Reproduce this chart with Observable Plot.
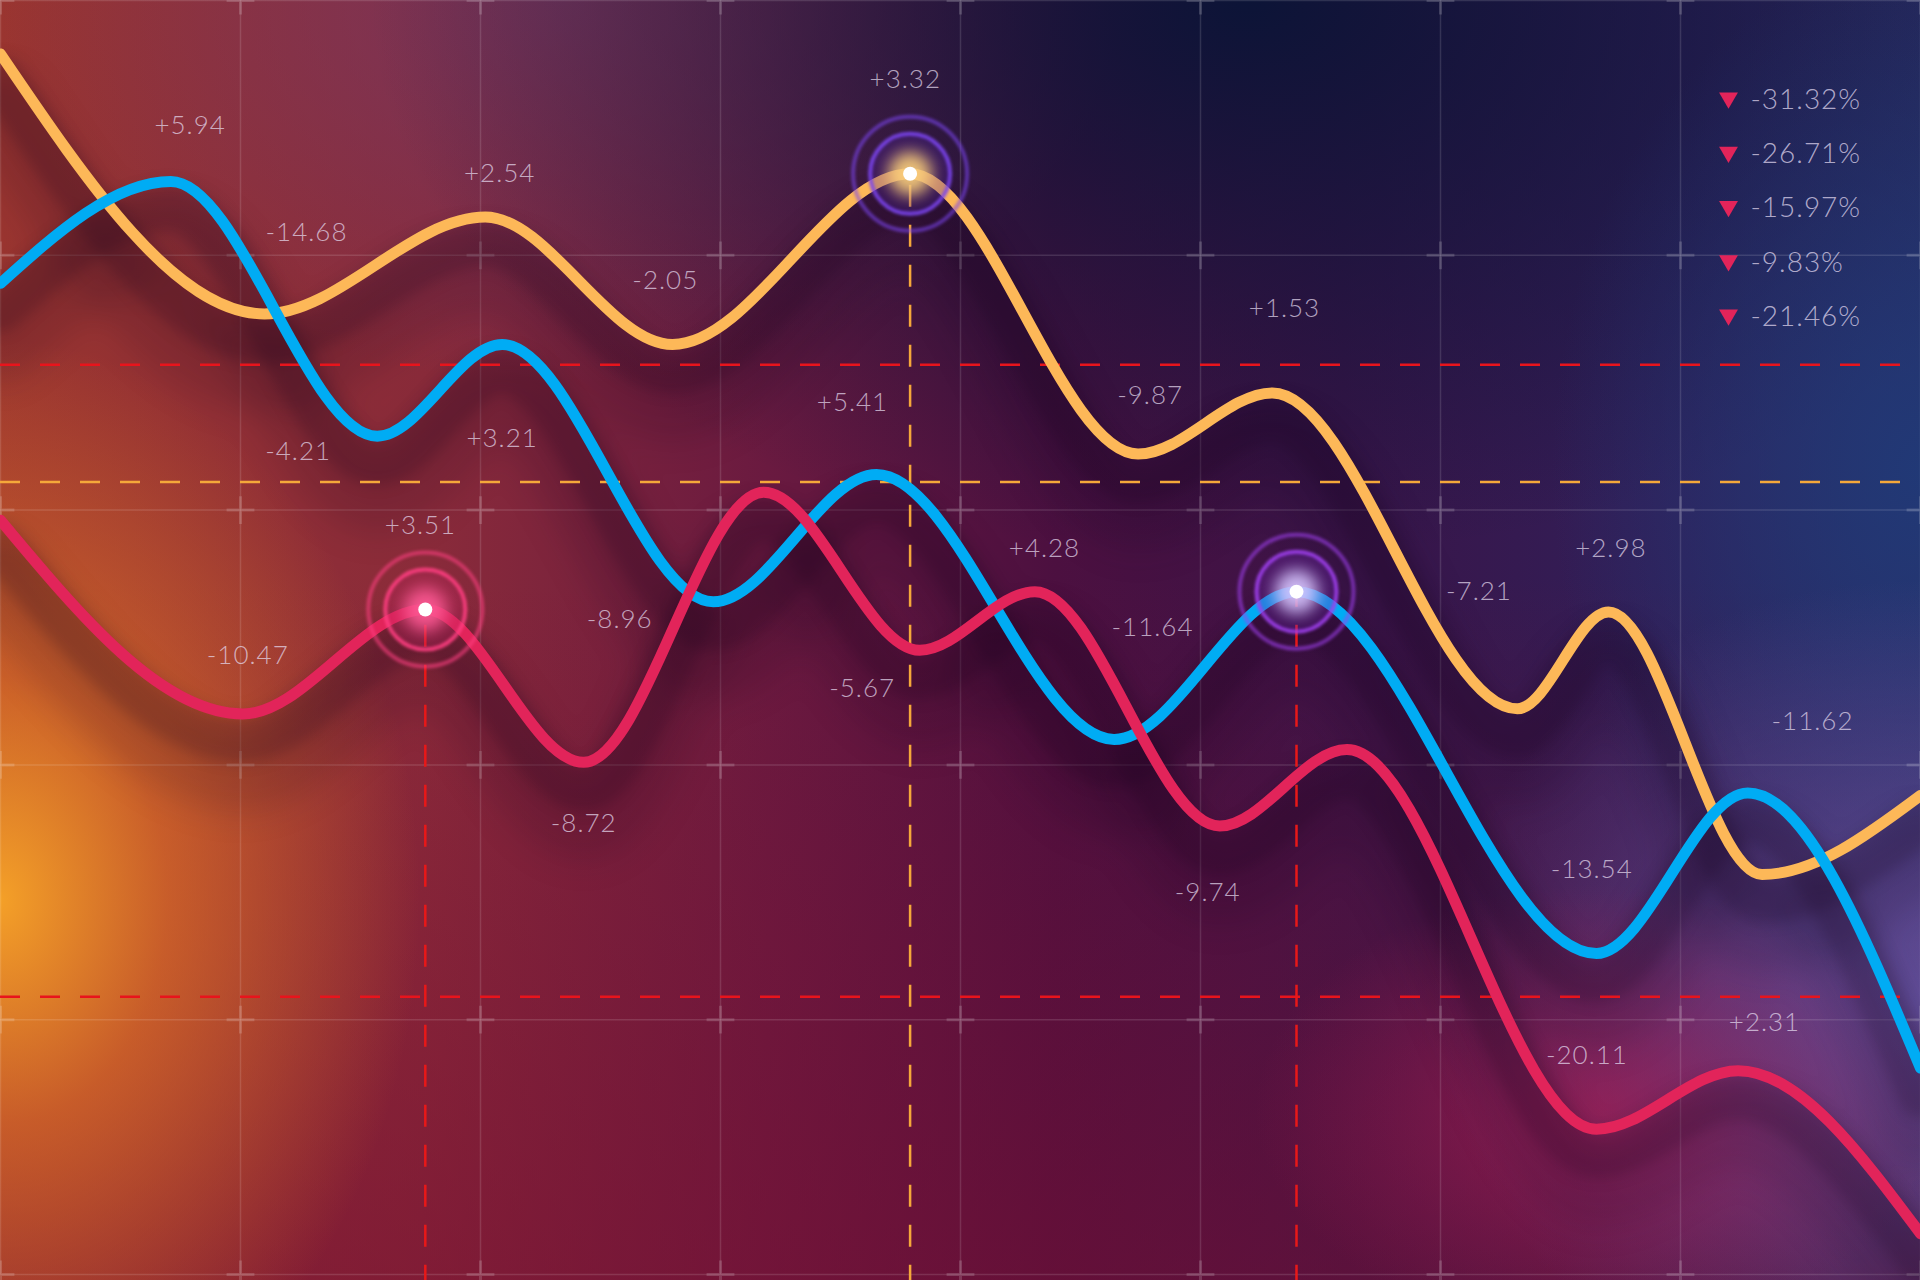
<!DOCTYPE html>
<html>
<head>
<meta charset="utf-8">
<script src="https://cdn.jsdelivr.net/npm/d3@7"></script>
<script src="https://cdn.jsdelivr.net/npm/@observablehq/plot@0.6"></script>
<style>
html, body { margin: 0; padding: 0; background: #000; }
#chart {
  width: 1920px; height: 1280px; position: relative; overflow: hidden;
  background:
    radial-gradient(ellipse 420px 560px at 0px 900px, rgba(244,160,40,1) 0%, rgba(225,115,38,0.7) 40%, rgba(200,80,40,0) 100%),
    radial-gradient(ellipse 460px 300px at 1600px 1110px, rgba(180,30,85,0.6), rgba(180,30,85,0) 75%),
    radial-gradient(ellipse 650px 560px at 1920px 1000px, rgba(100,82,160,0.9), rgba(100,82,160,0) 75%),
    radial-gradient(ellipse 460px 640px at 1920px 470px, rgba(32,58,120,0.9), rgba(32,58,120,0) 80%),
    radial-gradient(ellipse 1100px 700px at 1250px 0px, rgba(12,20,55,1), rgba(12,20,55,0) 80%),
    radial-gradient(ellipse 700px 480px at 560px 0px, rgba(118,56,98,0.8), rgba(118,56,98,0) 80%),
    linear-gradient(to bottom, rgba(120,15,50,0) 45%, rgba(120,15,50,0.55) 100%),
    linear-gradient(to right, #9a3530 0%, #8a2b3a 22%, #6a1a40 40%, #4c1040 55%, #3a1448 70%, #30205a 88%, #2b2c64 100%);
}
#chart svg { display: block; }
</style>
</head>
<body>
<div id="chart"></div>
<script>
// ---- data (x in grid columns 0..8, y in grid rows 0..5) ----
const orangeX = [0, 1.10, 2.02, 2.80, 3.79, 4.74, 5.30, 6.32, 6.70, 7.34, 8.0];
const orangeY = [4.79, 3.77, 4.15, 3.65, 4.32, 3.22, 3.46, 2.22, 2.60, 1.57, 1.88];
const blueX = [0, 0.71, 1.57, 2.09, 2.97, 3.65, 4.64, 5.40, 6.65, 7.28, 8.0];
const blueY = [3.89, 4.29, 3.29, 3.65, 2.64, 3.14, 2.10, 2.68, 1.26, 1.89, 0.81];
const pinkX = [0, 1.01, 1.77, 2.43, 3.18, 3.83, 4.31, 5.08, 5.61, 6.65, 7.24, 8.0];
const pinkY = [2.96, 2.20, 2.61, 2.01, 3.07, 2.45, 2.68, 1.76, 2.06, 0.57, 0.80, 0.16];

const labelText = ["+5.94","-14.68","+2.54","-2.05","+3.32","+5.41","-4.21","+3.21","+3.51","-8.96","-10.47","-8.72","-5.67","+1.53","-9.87","+4.28","-11.64","-7.21","+2.98","-11.62","-9.74","-13.54","+2.31","-20.11"];
const labelX = [0.79,1.275,2.08,2.77,3.77,3.55,1.24,2.09,1.75,2.58,1.03,2.43,3.59,5.35,4.79,4.35,4.80,6.16,6.71,7.55,5.03,6.63,7.35,6.61];
const labelY = [4.51,4.09,4.32,3.90,4.69,3.42,3.23,3.28,2.94,2.57,2.43,1.77,2.30,3.79,3.45,2.85,2.54,2.68,2.85,2.17,1.50,1.59,0.99,0.86];

const legendText = ["-31.32%","-26.71%","-15.97%","-9.83%","-21.46%"];

const refRed = [3.57, 1.09];
const refOrange = [3.11];

const gridX = d3.range(0, 9);
const gridY = d3.range(0, 6);

// ---- tables ----
const series = [
  ...orangeX.map((x, i) => ({s: "orange", x, y: orangeY[i]})),
  ...blueX.map((x, i) => ({s: "blue", x, y: blueY[i]})),
  ...pinkX.map((x, i) => ({s: "pink", x, y: pinkY[i]}))
];
const colors = {orange: "#fdb858", blue: "#00acf4", pink: "#e2245a"};
const labels = labelText.map((t, i) => ({t, x: labelX[i], y: labelY[i]}));
const crosses = gridX.flatMap(x => gridY.map(y => ({x, y})));
const legend = legendText.map((t, i) => ({t, x: 7.20, y: 4.61 - i * 0.213}));

const highlights = [
  {x: orangeX[4], y: orangeY[4], ring: "#7b45f0", glow: "#ffd37a", vline: "#f5a83a", inner: "#4a1fa0"},
  {x: pinkX[2], y: pinkY[2], ring: "#ff3f82", glow: "#ff5a96", vline: "#e81818", inner: "#c02060"},
  {x: blueX[7], y: blueY[7], ring: "#a040f0", glow: "#d8c8ff", vline: "#e81818", inner: "#6a20b0"}
];

const font = "Lato, 'Open Sans', sans-serif";
const effects = []; // [groupIndex, styleProp, value]
const marks = [];
function add(mark, ...fx) { fx.forEach(([p, v]) => effects.push([marks.length, p, v])); marks.push(mark); }

// grid
add(Plot.ruleX(gridX, {x: d => d, stroke: "#ffffff", strokeOpacity: 0.13, strokeWidth: 1.5}));
add(Plot.ruleY(gridY, {y: d => d, stroke: "#ffffff", strokeOpacity: 0.13, strokeWidth: 1.5}));
add(Plot.dot(crosses, {x: "x", y: "y", symbol: "plus", r: 9, stroke: "#ffffff", strokeOpacity: 0.16, strokeWidth: 3}));
// shadows
add(Plot.line(series, {x: "x", y: "y", z: "s", curve: "monotone-x", dy: 58, stroke: "#12021a", strokeOpacity: 0.14, strokeWidth: 80}), ["filter", "blur(16px)"]);
add(Plot.line(series, {x: "x", y: "y", z: "s", curve: "monotone-x", dy: 26, stroke: "#12021a", strokeOpacity: 0.2, strokeWidth: 46}), ["filter", "blur(7px)"]);
// reference dashed lines
add(Plot.ruleY(refRed, {y: d => d, stroke: "#e8141c", strokeWidth: 2.5, strokeDasharray: "20,20"}));
add(Plot.ruleY(refOrange, {y: d => d, stroke: "#f5a83a", strokeWidth: 2.5, strokeDasharray: "20,20"}));
add(Plot.ruleX(highlights, {x: "x", y1: -0.05, y2: "y", stroke: "vline", strokeWidth: 2.5, strokeDasharray: "22,18"}));
// main lines
add(Plot.line(series, {x: "x", y: "y", z: "s", stroke: d => colors[d.s], curve: "monotone-x", strokeWidth: 11, strokeLinecap: "round"}));
// highlight glows
add(Plot.dot(highlights, {x: "x", y: "y", r: 40, fill: "inner", fillOpacity: 0.3, stroke: "ring", strokeWidth: 4, strokeOpacity: 0.9}), ["filter", "blur(1.5px)"]);
add(Plot.dot(highlights, {x: "x", y: "y", r: 57, fill: "none", stroke: "ring", strokeWidth: 4, strokeOpacity: 0.6}), ["filter", "blur(1.5px)"]);
add(Plot.dot(highlights, {x: "x", y: "y", r: 22, fill: "glow", fillOpacity: 0.9}), ["filter", "blur(8px)"]);
add(Plot.dot(highlights, {x: "x", y: "y", r: 7, fill: "#ffffff"}));
// value labels
add(Plot.text(labels, {x: "x", y: "y", text: "t", fill: "#e6dcf0", fillOpacity: 0.72, fontSize: 26, fontWeight: 300, fontFamily: font}), ["letterSpacing", "1px"]);
// legend
add(Plot.dot(legend, {x: "x", y: "y", symbol: "triangle", rotate: 180, r: 7, fill: "#e2245a", dy: -2}));
add(Plot.text(legend, {x: "x", y: "y", text: "t", dx: 22, textAnchor: "start", fill: "#d6cce6", fillOpacity: 0.8, fontSize: 28, fontWeight: 300, fontFamily: font}), ["letterSpacing", "1px"]);

const chart = Plot.plot({
  width: 1920, height: 1280,
  marginTop: 0, marginRight: 0, marginLeft: 0, marginBottom: 6,
  x: {domain: [0, 8], axis: null},
  y: {domain: [0, 5], axis: null},
  style: {background: "transparent", overflow: "visible"},
  marks
});

document.getElementById("chart").append(chart);

const groups = Array.from(chart.children).filter(el => el.tagName.toLowerCase() === "g");
if (groups.length === marks.length) {
  effects.forEach(([i, p, v]) => { groups[i].style[p] = v; });
}
</script>
</body>
</html>
